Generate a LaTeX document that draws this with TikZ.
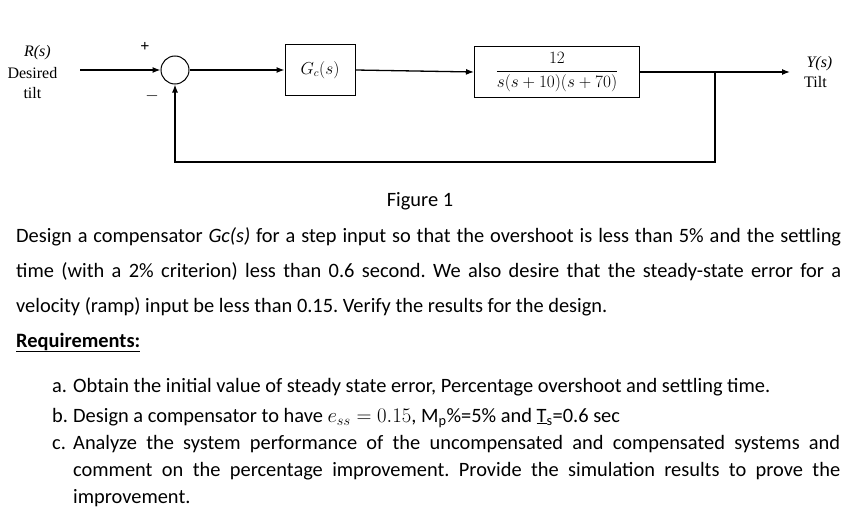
\documentclass[tikz,border=0pt]{standalone}
\usepackage{fontspec}
\setmainfont{Carlito}
\newfontfamily\tms{Liberation Serif}
\usetikzlibrary{arrows.meta}
\frenchspacing
\begin{document}
\begin{tikzpicture}[x=1pt,y=-1pt,
 blk/.style={draw,line width=1pt,minimum height=50pt,font=\fontsize{16}{18}\selectfont},
 sig/.style={line width=1.3pt,-{Latex[length=8pt,width=6pt]}},
 lab/.style={font=\tms\itshape\fontsize{16}{18}\selectfont,align=center},
 txt/.style={anchor=base west,inner sep=0,font=\fontsize{20.4}{24}\selectfont}]
\useasboundingbox (0,0) rectangle (867,519);
\node[lab,anchor=west] (r) at (4,72) {\hspace*{10pt}R(s)\\[4pt]\upshape Desired\\[2pt]\upshape tilt};
\node[draw,line width=1pt,circle,minimum size=28pt,inner sep=0] (s) at (175,70) {};
\node[blk,minimum width=70pt] (g) at (320,70) {\tms$G_c(s)$};
\node[blk,minimum width=165pt] (p) at (557,72) {\tms$\displaystyle\frac{12}{s(s+10)(s+70)}$};
\coordinate (o) at (790,72);
\coordinate (t) at (715,72);
\node[lab,anchor=west] (y) at (795,72) {\hspace*{8pt}Y(s)\\[2pt]\upshape Tilt};
\node[font=\fontsize{16}{18}\selectfont] (plus) at (145,47) {\tms\bfseries +};
\node[font=\fontsize{16}{18}\selectfont] (minus) at (152,96) {\tms\bfseries $-$};
\draw[sig] (80,70) -- (s.west);
\draw[sig] (s.east) -- (g.west);
\draw[sig] (g.east) -- (p.west);
\draw[sig] (p.east) -- (o);
\draw[sig] (t) |- (175,162) -- (s.south);
\node[txt,anchor=base] (f) at (420,206) {Figure 1};
\node[txt] (l1) at (16,242) {\makebox[825pt][s]{Design a compensator \textit{Gc(s)} for a step input so that the overshoot is less than 5\% and the settling}};
\node[txt] (l2) at (16,277) {\makebox[825pt][s]{time (with a 2\% criterion) less than 0.6 second. We also desire that the steady-state error for a}};
\node[txt] (l3) at (16,312) {velocity (ramp) input be less than 0.15. Verify the results for the design.};
\node[txt] (rq) at (16,347) {\textbf{\underline{Requirements:}}};
\node[txt] (a) at (52,392) {a.};
\node[txt] (a2) at (73,392) {Obtain the initial value of steady state error, Percentage overshoot and settling time.};
\node[txt] (b) at (52,422) {b.};
\node[txt] (b2) at (73,422) {Design a compensator to have $e_{ss}=0.15$, M$_\mathrm{p}$\%=5\% and \underline{T}$_\mathrm{s}$=0.6 sec};
\node[txt] (c) at (52,449) {c.};
\node[txt] (c2) at (73,449) {\makebox[767pt][s]{Analyze the system performance of the uncompensated and compensated systems and}};
\node[txt] (c3) at (73,476) {\makebox[767pt][s]{comment on the percentage improvement. Provide the simulation results to prove the}};
\node[txt] (c4) at (73,503) {improvement.};
\end{tikzpicture}
\end{document}
